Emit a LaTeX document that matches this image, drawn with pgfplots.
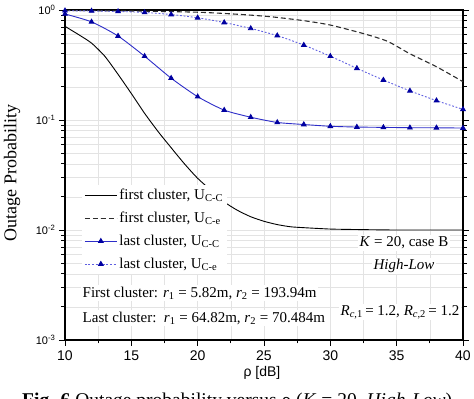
\documentclass[border=0pt]{standalone}
\usepackage{pgfplots}
\pgfplotsset{compat=1.18}
\usepackage{fontspec}
\setmainfont{Liberation Serif}
\newfontfamily\sansf{Liberation Sans}
\definecolor{blueline}{RGB}{45,45,200}
\definecolor{markblue}{RGB}{0,0,160}
\definecolor{dotblue}{RGB}{95,95,225}
\definecolor{dashgray}{RGB}{45,45,45}
\begin{document}
\begin{tikzpicture}
\begin{axis}[
  scale only axis, width=398pt, height=330pt,
  at={(0pt,0pt)}, anchor=south west,
  xmin=10, xmax=40, ymode=log, ymin=1e-3, ymax=1,
  xtick={10,15,...,40}, minor x tick num=1,
  ytick={1e-3,1e-2,1e-1,1},
  yticklabels={10\textsuperscript{-3},10\textsuperscript{-2},10\textsuperscript{-1},10\textsuperscript{0}},
  grid=both,
  major grid style={gray!22, line width=0.4pt},
  minor grid style={gray!22, line width=0.4pt},
  tick align=outside, xtick pos=left, ytick pos=both,
  major tick length=6pt, minor tick length=3.5pt,
  axis line style={line width=1.4pt},
  every tick/.style={black, line width=0.9pt},
  /pgf/number format/assume math mode=true,
  xticklabel style={font=\sansf\fontsize{14}{16}\selectfont, yshift=-1pt},
  yticklabel style={font=\sansf\fontsize{11}{13}\selectfont},
  legend cell align=left,
  legend style={at={(0.043,0.47)}, anchor=north west, draw=none, fill=white,
    font=\fontsize{15}{18}\selectfont, row sep=7pt, inner sep=2pt},
  legend image code/.code={\draw[mark repeat=2,mark phase=2] plot coordinates {(0pt,0pt) (16pt,0pt) (32pt,0pt)};},
]
\addplot[black, line width=0.9pt, smooth, tension=0.4] coordinates {
(10,0.71) (11,0.60) (12,0.50) (13,0.38) (14,0.26) (15,0.174) (16,0.115) (17,0.079)
(18,0.056) (19,0.040) (20,0.0295) (21,0.023) (22,0.018) (23,0.0151) (24,0.0132)
(25,0.0120) (26,0.0112) (27,0.0107) (28,0.0105) (30,0.0102) (32,0.0101) (35,0.0100) (40,0.0100)};
\addlegendentry{first cluster, U\textsubscript{C-C}}
\addplot[dashgray, line width=1.1pt, dash pattern=on 5pt off 3pt, smooth, tension=0.4] coordinates {
(10,0.99) (15,0.98) (20,0.955) (23,0.915) (25.45,0.87) (28,0.80) (30,0.73) (32.5,0.61)
(34.3,0.52) (36,0.40) (38,0.305) (40,0.223)};
\addlegendentry{first cluster, U\textsubscript{C-e}}
\addplot[blueline, line width=0.9pt, smooth, tension=0.4, mark=triangle*, mark size=2.6pt,
  mark options={fill=markblue, draw=markblue, solid}] coordinates {
(10,0.92) (12,0.78) (14,0.58) (16,0.38) (18,0.24) (20,0.163) (22,0.123) (24,0.106)
(26,0.095) (28,0.091) (30,0.0877) (32,0.0863) (34,0.0857) (36,0.0851) (38,0.085) (40,0.0845)};
\addlegendentry{last cluster, U\textsubscript{C-C}}
\addplot[dotblue, line width=0.9pt, dash pattern=on 1.8pt off 1.8pt, smooth, tension=0.4, mark=triangle*, mark size=2.6pt,
  mark options={fill=markblue, draw=markblue, solid}] coordinates {
(10,0.985) (12,0.98) (14,0.97) (16,0.95) (18,0.91) (20,0.85) (22,0.77) (24,0.68)
(26,0.585) (28,0.48) (30,0.38) (32,0.295) (34,0.231) (36,0.184) (38,0.15) (40,0.125)};
\addlegendentry{last cluster, U\textsubscript{C-e}}
\end{axis}
\begin{scope}[every node/.style={font=\fontsize{15}{18}\selectfont, fill=white, inner sep=1.5pt}]
\node at (339pt,97pt) {\textit{K} = 20, case B};
\node at (339pt,74pt) {\textit{High-Low}};
\node at (335pt,28pt) {\textit{R}\textsubscript{\textit{c},1}\,= 1.2, \textit{R}\textsubscript{\textit{c},2}\,= 1.2};
\node[anchor=west] at (16pt,47pt) {First cluster: \textit{r}\textsubscript{1} = 5.82m, \textit{r}\textsubscript{2} = 193.94m};
\node[anchor=west] at (16pt,22pt) {Last cluster:\ \ \textit{r}\textsubscript{1} = 64.82m, \textit{r}\textsubscript{2} = 70.484m};
\end{scope}
\node[rotate=90, font=\fontsize{18}{21}\selectfont] at (-53pt,167pt) {Outage Probability};
\node[font=\sansf\fontsize{14}{16}\selectfont] at (197pt,-33pt) {ρ [dB]};
\node[anchor=base west, font=\fontsize{19.5}{22}\selectfont, inner sep=0pt] at (-43pt,-66pt) {\textbf{Fig. 6} Outage probability versus ρ (\textit{K} = 20, \textit{High-Low})};
\pgfresetboundingbox
\useasboundingbox (-65pt,-59pt) rectangle (409pt,340pt);
\end{tikzpicture}
\end{document}
